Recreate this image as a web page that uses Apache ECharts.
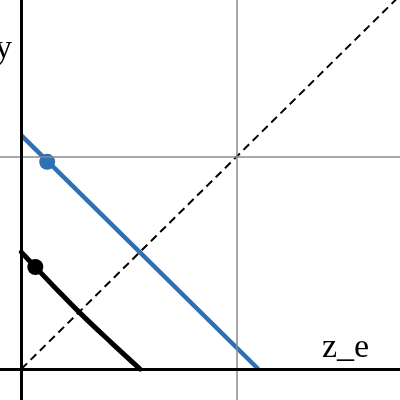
<!DOCTYPE html>
<html><head><meta charset="utf-8">
<script src="https://cdn.jsdelivr.net/npm/echarts@6/dist/echarts.min.js"></script>
<style>html,body{margin:0;padding:0;background:#fff}#c{width:400px;height:400px}</style>
</head><body><div id="c"></div>
<script>
// Data
const blueX = [0, 1.1];
const blueY = [1.1, 0];
const blueDot = [0.12, 0.975];
const blackX = [0, 0.065, 0.15, 0.273, 0.42, 0.551];
const blackY = [0.55, 0.48, 0.39, 0.263, 0.122, 0];
const blackDot = [0.065, 0.48];
const diagX = [0, 2];
const diagY = [0, 2];
const gridAt = [1];
const xLabel = 'z_e';
const yLabel = 'y';

const zip = (a, b) => a.map((v, i) => [v, b[i]]);
const chart = echarts.init(document.getElementById('c'));
const grey = {lineStyle: {color: '#8a8a8a', width: 1.5, type: 'solid'}};
const axisStyle = {lineStyle: {color: '#000', width: 3, type: 'solid'}};
chart.setOption({
  animation: false,
  grid: {left: 0, right: 0, top: 0, bottom: 0},
  xAxis: {type: 'value', min: -0.099, max: 1.758, show: false},
  yAxis: {type: 'value', min: -0.146, max: 1.737, show: false},
  graphic: [
    {type: 'text', style: {text: yLabel, x: 12, y: 49, textAlign: 'right', textVerticalAlign: 'middle', font: '34px "Liberation Serif"', fill: '#000'}},
    {type: 'text', style: {text: xLabel, x: 322, y: 348, textAlign: 'left', textVerticalAlign: 'middle', font: '34px "Liberation Serif"', fill: '#000'}}
  ],
  series: [
    {type: 'line', data: [], silent: true,
     markLine: {symbol: 'none', silent: true, label: {show: false},
       data: gridAt.map(v => ({xAxis: v, ...grey})).concat(gridAt.map(v => ({yAxis: v, ...grey})))}},
    {type: 'line', data: [], silent: true,
     markLine: {symbol: 'none', silent: true, label: {show: false},
       data: [{xAxis: 0, ...axisStyle}, {yAxis: 0, ...axisStyle}]}},
    {type: 'line', data: zip(diagX, diagY), showSymbol: false, lineStyle: {color: '#000', width: 2, type: [8, 5]}},
    {type: 'line', data: zip(blackX, blackY), smooth: 0.4, showSymbol: false, lineStyle: {color: '#000', width: 5, cap: 'round'}},
    {type: 'line', data: zip(blueX, blueY), showSymbol: false, lineStyle: {color: '#2d70b3', width: 4.5}},
    {type: 'scatter', data: [blackDot], symbolSize: 16, itemStyle: {color: '#000', opacity: 1}},
    {type: 'scatter', data: [blueDot], symbolSize: 16, itemStyle: {color: '#2d70b3', opacity: 1}}
  ]
});
</script></body></html>
